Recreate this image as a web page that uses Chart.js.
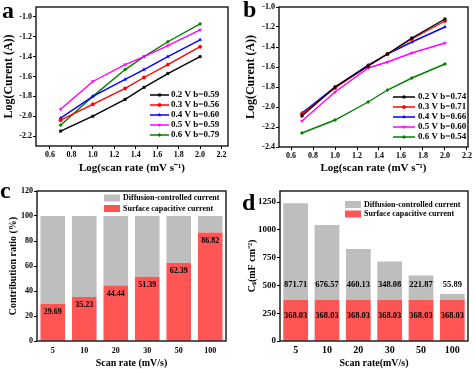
<!DOCTYPE html>
<html>
<head>
<meta charset="utf-8">
<script src="https://cdn.jsdelivr.net/npm/chart.js@4.4.0/dist/chart.umd.min.js"></script>
<style>
  body { margin: 0; background: #fff; }
  #wrap { position: relative; width: 474px; height: 369px; overflow: hidden; }
  canvas { position: absolute; }
  .tag { position: absolute; font: bold 24px 'Liberation Serif', serif; line-height: 24px; }
</style>
</head>
<body>
<div id="wrap">
  <canvas id="chart-a" width="237" height="180" style="left:0;top:0"></canvas>
  <canvas id="chart-b" width="237" height="180" style="left:237px;top:0"></canvas>
  <canvas id="chart-c" width="237" height="189" style="left:0;top:180px"></canvas>
  <canvas id="chart-d" width="237" height="189" style="left:237px;top:180px"></canvas>
  <div class="tag" style="left:2px;top:-2px">a</div>
  <div class="tag" style="left:243px;top:-3px">b</div>
  <div class="tag" style="left:0;top:178px">c</div>
  <div class="tag" style="left:242px;top:190px">d</div>
</div>
<script>
// log10 of the scan rates 5, 10, 20, 30, 50, 100 mV/s
const logRate = [0.699, 1.0, 1.301, 1.477, 1.699, 2.0];
const logTicks = [0.6, 0.8, 1.0, 1.2, 1.4, 1.6, 1.8, 2.0, 2.2];

// panel a
const labelsA = ['0.2 V b=0.59', '0.3 V b=0.56', '0.4 V b=0.60', '0.5 V b=0.59', '0.6 V b=0.79'];
const a02 = [-2.15, -2.00, -1.83, -1.71, -1.57, -1.40];
const a03 = [-2.04, -1.88, -1.72, -1.61, -1.48, -1.30];
const a04 = [-2.02, -1.80, -1.63, -1.53, -1.40, -1.23];
const a05 = [-1.93, -1.65, -1.48, -1.40, -1.29, -1.13];
const a06 = [-2.09, -1.80, -1.53, -1.40, -1.25, -1.07];
const yTicksA = [-2.2, -2.0, -1.8, -1.6, -1.4, -1.2, -1.0];

// panel b
const labelsB = ['0.2 V b=0.74', '0.3 V b=0.71', '0.4 V b=0.66', '0.5 V b=0.60', '0.6 V b=0.54'];
const b02 = [-2.09, -1.80, -1.59, -1.47, -1.31, -1.12];
const b03 = [-2.07, -1.81, -1.59, -1.47, -1.32, -1.14];
const b04 = [-2.06, -1.80, -1.58, -1.47, -1.35, -1.20];
const b05 = [-2.14, -1.85, -1.61, -1.55, -1.46, -1.36];
const b06 = [-2.26, -2.13, -1.95, -1.83, -1.71, -1.57];
const yTicksB = [-2.4, -2.2, -2.0, -1.8, -1.6, -1.4, -1.2, -1.0];

// panels c and d
const scanRates = ['5', '10', '20', '30', '50', '100'];
const surfaceC = [29.69, 35.23, 44.44, 51.39, 62.39, 86.82];
const diffusionC = [70.31, 64.77, 55.56, 48.61, 37.61, 13.18];
const yTicksC = [0, 20, 40, 60, 80, 100, 120];
const surfaceD = [368.03, 368.03, 368.03, 368.03, 368.03, 368.03];
const diffusionD = [871.71, 676.57, 460.13, 348.08, 221.87, 55.89];
const yTicksD = [0, 250, 500, 750, 1000, 1250];

const lineColors = ['#000000', '#ff0000', '#0000ff', '#ff00ff', '#008000'];
const markers = ['rect', 'circle', 'triangle', 'triangle', 'rectRot'];
const markerTurn = [0, 0, 0, 180, 0];
const grey = '#bebebe';
const red = '#ff5555';

Chart.defaults.font.family = "'Liberation Serif', 'Times New Roman', serif";
Chart.defaults.font.weight = 'bold';
Chart.defaults.color = '#000';
Chart.defaults.animation = false;

// full box round the plot area, like the Origin frame
const frame = {
  id: 'frame',
  afterDraw(chart) {
    const { ctx, chartArea: a } = chart;
    ctx.save();
    ctx.strokeStyle = '#000';
    ctx.lineWidth = 1.3;
    ctx.strokeRect(a.left, a.top, a.right - a.left, a.bottom - a.top);
    ctx.restore();
  }
};

// legend of line + marker rows, inside the plot at the bottom right
const lineLegend = {
  id: 'lineLegend',
  afterDraw(chart, args, opts) {
    if (!opts.show) return;
    const { ctx, chartArea: a } = chart;
    const sets = chart.data.datasets;
    ctx.save();
    ctx.font = "bold 9px 'Liberation Serif', serif";
    ctx.textBaseline = 'middle';
    sets.forEach((ds, i) => {
      const y = a.bottom - opts.bottom - (sets.length - 1 - i) * opts.rowH;
      const x0 = a.right - opts.lineFrom;
      const x1 = a.right - opts.lineTo;
      ctx.strokeStyle = ds.borderColor;
      ctx.lineWidth = 1.5;
      ctx.beginPath();
      ctx.moveTo(x0, y);
      ctx.lineTo(x1, y);
      ctx.stroke();
      ctx.fillStyle = ds.borderColor;
      ctx.lineWidth = 0.5;
      Chart.helpers.drawPoint(ctx, { pointStyle: ds.pointStyle, rotation: ds.rotation, radius: 1.7, borderWidth: 0.5 }, (x0 + x1) / 2, y);
      ctx.fillStyle = '#000';
      ctx.fillText(ds.label, a.right - opts.text, y);
    });
    ctx.restore();
  }
};

// legend of coloured boxes, inside the plot at the top right
const boxLegend = {
  id: 'boxLegend',
  afterDraw(chart, args, opts) {
    if (!opts.show) return;
    const { ctx, chartArea: a } = chart;
    ctx.save();
    ctx.font = "bold 8px 'Liberation Serif', serif";
    ctx.textBaseline = 'middle';
    const order = chart.data.datasets.slice().reverse();
    order.forEach((ds, i) => {
      const y = a.top + opts.top + i * opts.rowH;
      const x = a.left + opts.left;
      ctx.fillStyle = ds.backgroundColor;
      ctx.fillRect(x, y - 3.5, 16, 7);
      ctx.fillStyle = '#000';
      ctx.fillText(ds.label, x + 19, y);
    });
    ctx.restore();
  }
};

// value labels written on the bars
const barValues = {
  id: 'barValues',
  afterDatasetsDraw(chart, args, opts) {
    if (!opts.show) return;
    const { ctx } = chart;
    ctx.save();
    ctx.font = `bold ${opts.size}px 'Liberation Serif', serif`;
    ctx.fillStyle = '#000';
    ctx.textAlign = 'center';
    ctx.textBaseline = 'middle';
    chart.data.datasets.forEach((ds, di) => {
      const place = opts.place[di];
      if (!place) return;
      chart.getDatasetMeta(di).data.forEach((bar, i) => {
        const y = place.from === 'top' ? bar.y + place.dy : bar.base + place.dy;
        ctx.fillText(ds.data[i].toFixed(2), bar.x, y);
      });
    });
    ctx.restore();
  }
};

function fixTicks(list) {
  return scale => { scale.ticks = list.map(v => ({ value: v })); };
}

function xAxis(cfg) {
  return {
    type: cfg.type,
    min: cfg.min,
    max: cfg.max,
    afterFit: scale => { scale.height = cfg.height; },
    afterBuildTicks: cfg.ticks ? fixTicks(cfg.ticks) : undefined,
    border: { display: false },
    grid: { drawOnChartArea: false, drawTicks: cfg.type === 'linear', tickLength: 3, tickColor: '#000' },
    ticks: {
      font: { size: cfg.tickSize },
      padding: cfg.tickPad,
      maxRotation: 0,
      autoSkip: false,
      callback: cfg.type === 'linear' ? v => v.toFixed(1) : function (v) { return this.getLabelForValue(v); }
    },
    title: { display: true, text: cfg.title, font: { size: cfg.titleSize }, padding: { top: 0, bottom: cfg.titlePad } }
  };
}

function yAxis(cfg) {
  return {
    type: 'linear',
    min: cfg.min,
    max: cfg.max,
    stacked: cfg.stacked,
    afterFit: scale => { scale.width = cfg.width; },
    afterBuildTicks: fixTicks(cfg.ticks),
    border: { display: false },
    grid: { drawOnChartArea: false, tickLength: 3, tickColor: '#000' },
    ticks: {
      font: { size: cfg.tickSize },
      padding: 1,
      callback: cfg.digits != null ? v => v.toFixed(cfg.digits) : v => v
    },
    title: { display: true, text: cfg.title, font: { size: cfg.titleSize }, padding: { top: cfg.titlePad, bottom: 0 } }
  };
}

function lineSets(labels, series) {
  return series.map((vals, i) => ({
    label: labels[i],
    data: logRate.map((x, j) => ({ x: x, y: vals[j] })),
    borderColor: lineColors[i],
    backgroundColor: lineColors[i],
    borderWidth: 1.4,
    pointStyle: markers[i],
    rotation: markerTurn[i],
    pointRadius: 1.7,
    pointBorderWidth: 0.5,
    tension: 0
  }));
}

const plugins = [frame, lineLegend, boxLegend, barValues];

new Chart(document.getElementById('chart-a'), {
  type: 'line',
  data: { datasets: lineSets(labelsA, [a02, a03, a04, a05, a06]) },
  plugins: plugins,
  options: {
    responsive: false,
    layout: { padding: { left: 0, top: 7, right: 9, bottom: 0 } },
    plugins: {
      legend: { display: false },
      tooltip: { enabled: false },
      lineLegend: { show: true, bottom: 11, rowH: 10, lineFrom: 78, lineTo: 59, text: 57 }
    },
    scales: {
      x: xAxis({ type: 'linear', min: 0.47, max: 2.26, ticks: logTicks, height: 34, tickSize: 8, tickPad: 1, title: 'Log(scan rate (mV s⁻¹)', titleSize: 11, titlePad: 5 }),
      y: yAxis({ min: -2.3, max: -0.9, ticks: yTicksA, width: 36, tickSize: 8, digits: 1, title: 'Log(Curent (A))', titleSize: 12, titlePad: 2 })
    }
  }
});

new Chart(document.getElementById('chart-b'), {
  type: 'line',
  data: { datasets: lineSets(labelsB, [b02, b03, b04, b05, b06]) },
  plugins: plugins,
  options: {
    responsive: false,
    layout: { padding: { left: 0, top: 7, right: 6, bottom: 0 } },
    plugins: {
      legend: { display: false },
      tooltip: { enabled: false },
      lineLegend: { show: true, bottom: 10, rowH: 10, lineFrom: 75, lineTo: 53, text: 50 }
    },
    scales: {
      x: xAxis({ type: 'linear', min: 0.49, max: 2.21, ticks: logTicks, height: 33, tickSize: 8, tickPad: 1, title: 'Log(scan rate (mV s⁻¹)', titleSize: 11, titlePad: 5 }),
      y: yAxis({ min: -2.4, max: -1.0, ticks: yTicksB, width: 42, tickSize: 8, digits: 1, title: 'Log(Curent (A))', titleSize: 12, titlePad: 7 })
    }
  }
});

new Chart(document.getElementById('chart-c'), {
  type: 'bar',
  data: {
    labels: scanRates,
    datasets: [
      { label: 'Surface capacitive current', data: surfaceC, backgroundColor: red },
      { label: 'Diffusion-controlled current', data: diffusionC, backgroundColor: grey }
    ]
  },
  plugins: plugins,
  options: {
    responsive: false,
    layout: { padding: { left: 0, top: 11, right: 11, bottom: 0 } },
    datasets: { bar: { barPercentage: 0.78, categoryPercentage: 1 } },
    plugins: {
      legend: { display: false },
      tooltip: { enabled: false },
      boxLegend: { show: true, top: 7, rowH: 10.5, left: 67 },
      barValues: { show: true, size: 8, place: [{ from: 'top', dy: 8 }, null] }
    },
    scales: {
      x: Object.assign(xAxis({ type: 'category', height: 28, tickSize: 8, tickPad: 5, title: 'Scan rate (mV/s)', titleSize: 10, titlePad: 0 }), { stacked: true }),
      y: yAxis({ min: 0, max: 120, ticks: yTicksC, stacked: true, width: 37, tickSize: 8, title: 'Contribution ratio (%)', titleSize: 10, titlePad: 7 })
    }
  }
});

new Chart(document.getElementById('chart-d'), {
  type: 'bar',
  data: {
    labels: scanRates,
    datasets: [
      { label: 'Surface capacitive current', data: surfaceD, backgroundColor: red },
      { label: 'Diffusion-controlled current', data: diffusionD, backgroundColor: grey }
    ]
  },
  plugins: plugins,
  options: {
    responsive: false,
    layout: { padding: { left: 0, top: 11, right: 6, bottom: 0 } },
    datasets: { bar: { barPercentage: 0.79, categoryPercentage: 1 } },
    plugins: {
      legend: { display: false },
      tooltip: { enabled: false },
      boxLegend: { show: true, top: 13.5, rowH: 9.5, left: 65 },
      barValues: { show: true, size: 8.5, place: [{ from: 'top', dy: 16 }, { from: 'base', dy: -15 }] }
    },
    scales: {
      x: Object.assign(xAxis({ type: 'category', height: 28, tickSize: 10, tickPad: 3, title: 'Scan rate(mV/s)', titleSize: 10, titlePad: 0 }), { stacked: true }),
      y: yAxis({ min: 0, max: 1350, ticks: yTicksD, stacked: true, width: 43, tickSize: 9, title: 'Cₛ(mF cm⁻²)', titleSize: 10, titlePad: 9 })
    }
  }
});
</script>
</body>
</html>
